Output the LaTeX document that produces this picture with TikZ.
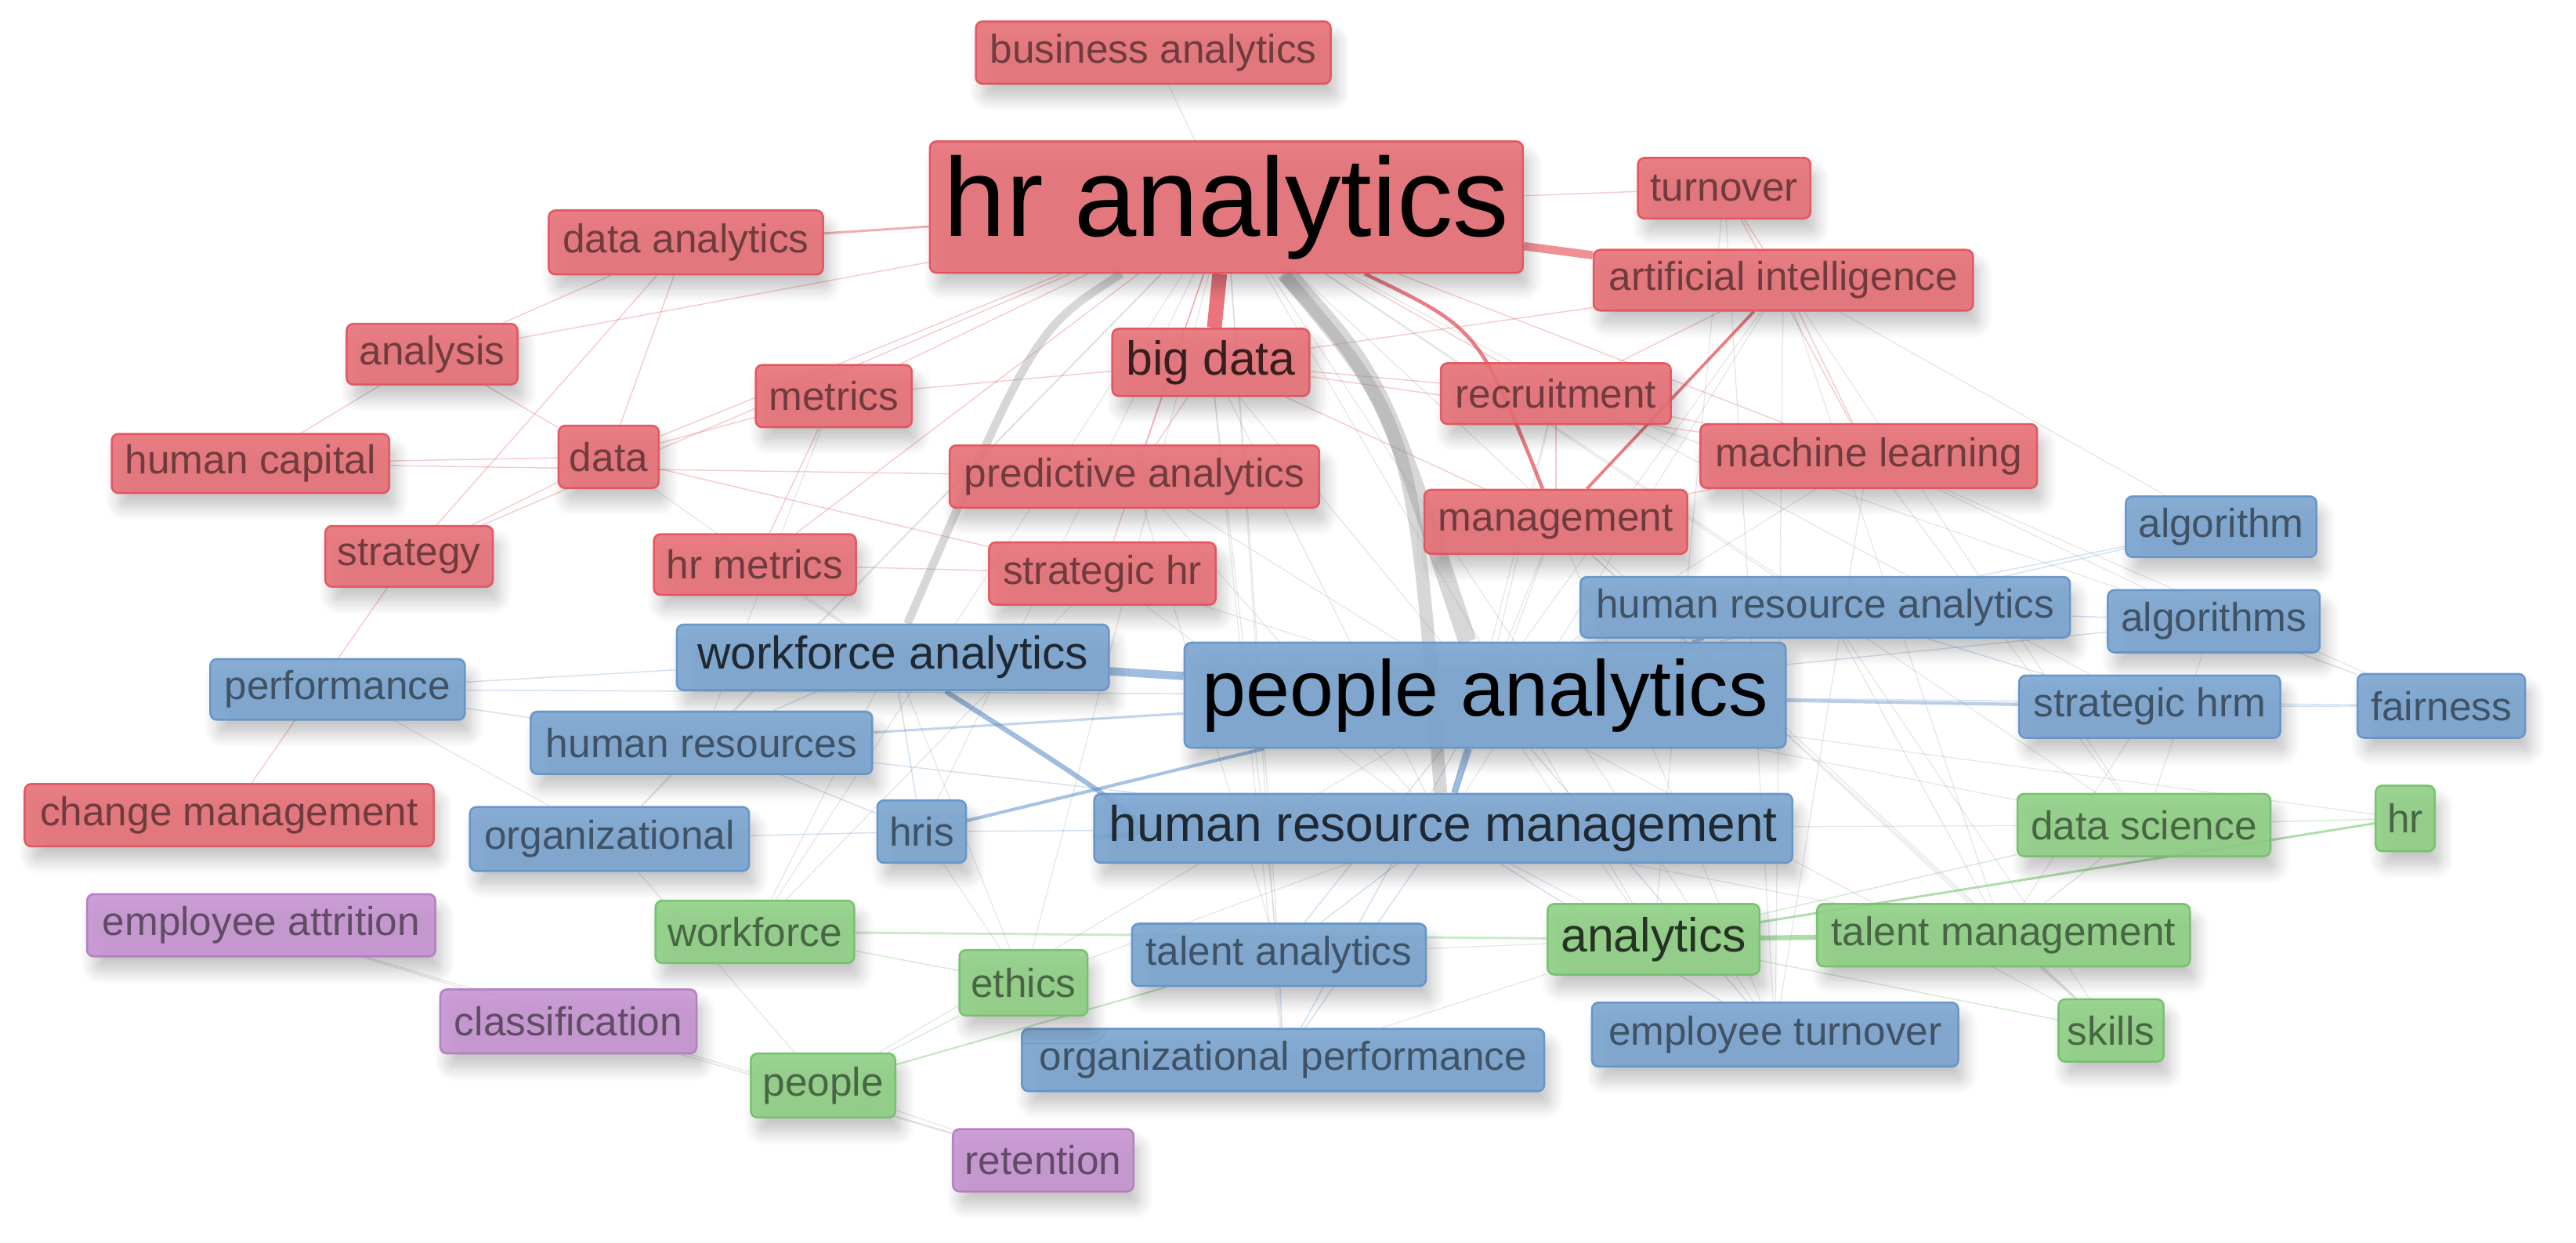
\documentclass[tikz,border=0pt]{standalone}
\usepackage{fontspec}
\setmainfont{Liberation Sans}
\usetikzlibrary{shadows.blur}
\pgfdeclarelayer{bg}
\pgfsetlayers{bg,main}
\definecolor{rfill}{RGB}{230,112,118}
\definecolor{rdraw}{RGB}{226,80,90}
\definecolor{bfill}{RGB}{122,164,207}
\definecolor{bdraw}{RGB}{96,146,200}
\definecolor{gfill}{RGB}{142,207,132}
\definecolor{gdraw}{RGB}{112,192,104}
\definecolor{pfill}{RGB}{197,148,208}
\definecolor{pdraw}{RGB}{176,122,192}
\definecolor{redge}{RGB}{228,70,80}
\definecolor{bedge}{RGB}{80,135,200}
\definecolor{gedge}{RGB}{110,195,100}
\definecolor{kedge}{RGB}{140,140,140}
\definecolor{pedge}{RGB}{180,130,195}
\newcommand\kwnode[7]{\node[#1, minimum width=#5pt, minimum height=#6pt] (#2) at (#3,#4) {#7};}
\tikzset{
  kw/.style={rounded corners=4pt, line width=1.2pt, inner xsep=2pt, inner ysep=0pt,
    font=\fontsize{24.5}{26}\selectfont, text=black, text opacity=0.5,
    fill opacity=0.9, draw opacity=0.9,
    blur shadow={shadow xshift=4pt, shadow yshift=-9pt, shadow opacity=25, shadow blur steps=8, shadow blur radius=8pt}},
  rn/.style={kw, fill=rfill, draw=rdraw},
  bn/.style={kw, fill=bfill, draw=bdraw},
  gn/.style={kw, fill=gfill, draw=gdraw},
  pn/.style={kw, fill=pfill, draw=pdraw},
  midtxt/.style={font=\fontsize{29}{31}\selectfont, text opacity=0.75},
  hugetxt/.style={text opacity=1},
  redln/.style={draw=redge, draw opacity=0.28, line width=0.7pt},
  blueln/.style={draw=bedge, draw opacity=0.25, line width=0.7pt},
  grayln/.style={draw=kedge, draw opacity=0.22, line width=0.6pt},
  greenln/.style={draw=gedge, draw opacity=0.3, line width=0.7pt},
  purpln/.style={draw=pedge, draw opacity=0.25, line width=0.7pt},
}
\begin{document}
\begin{tikzpicture}[x=1pt,y=-1pt]
\useasboundingbox (0,0) rectangle (1568,756);
% ---- red cluster
\kwnode{rn}{bizan}{702}{32}{216}{38}{business analytics}
\kwnode{rn,hugetxt,font=\fontsize{68}{70}\selectfont}{hra}{746.5}{126}{361}{80}{hr analytics}
\kwnode{rn}{turnover}{1049.5}{114.5}{105}{37}{turnover}
\kwnode{rn}{dataan}{417.5}{147.5}{167}{39}{data analytics}
\kwnode{rn}{ai}{1085.5}{170.5}{231}{37}{artificial intelligence}
\kwnode{rn}{analysis}{263}{215.5}{104}{37}{analysis}
\kwnode{rn,midtxt}{bigdata}{737}{220.5}{120}{41}{big data}
\kwnode{rn}{metrics}{507.5}{241}{95}{38}{metrics}
\kwnode{rn}{recruit}{947}{239.5}{140}{37}{recruitment}
\kwnode{rn}{humcap}{152.5}{282}{169}{36}{human capital}
\kwnode{rn}{data}{370.5}{278}{61}{38}{data}
\kwnode{rn}{ml}{1137.5}{277.5}{205}{39}{machine learning}
\kwnode{rn}{predan}{690.5}{290}{225}{38}{predictive analytics}
\kwnode{rn}{mgmt}{947}{317.5}{160}{39}{management}
\kwnode{rn}{strategy}{249}{338.5}{102}{37}{strategy}
\kwnode{rn}{hrmet}{459.5}{343.5}{123}{37}{hr metrics}
\kwnode{rn}{strathr}{671}{349}{138}{38}{strategic hr}
\kwnode{rn}{changem}{139.5}{496}{249}{38}{change management}
% ---- blue cluster
\kwnode{bn}{algorithm}{1352}{320.5}{116}{37}{algorithm}
\kwnode{bn}{hranal}{1111}{369.5}{298}{37}{human resource analytics}
\kwnode{bn}{algorithms}{1347.5}{378}{129}{38}{algorithms}
\kwnode{bn,midtxt,font=\fontsize{28}{30}\selectfont}{wfa}{543.5}{400}{263}{40}{workforce analytics}
\kwnode{bn,hugetxt,font=\fontsize{48}{50}\selectfont}{pa}{904}{423}{366}{64}{people analytics}
\kwnode{bn}{perf}{205.5}{419.5}{155}{37}{performance}
\kwnode{bn}{strathrm}{1308.5}{430}{159}{38}{strategic hrm}
\kwnode{bn}{fairness}{1486}{429.5}{102}{39}{fairness}
\kwnode{bn}{humres}{427}{452}{208}{38}{human resources}
\kwnode{bn}{hris}{561}{506}{54}{38}{hris}
\kwnode{bn}{org}{371}{510.5}{170}{39}{organizational}
\kwnode{bn,midtxt,font=\fontsize{30.5}{32}\selectfont}{hrm}{878.5}{504}{425}{42}{human resource management}
\kwnode{bn}{talentan}{778.5}{581}{179}{38}{talent analytics}
\kwnode{bn}{orgperf}{781}{645}{318}{38}{organizational performance}
\kwnode{bn}{empturn}{1080.5}{629.5}{223}{39}{employee turnover}
% ---- green cluster
\kwnode{gn}{datasci}{1305}{502}{154}{38}{data science}
\kwnode{gn}{hr}{1464}{498}{36}{40}{hr}
\kwnode{gn}{workforce}{459.5}{567}{121}{38}{workforce}
\kwnode{gn,midtxt}{analytics}{1006.5}{571.5}{129}{43}{analytics}
\kwnode{gn}{talentm}{1219.5}{569}{227}{38}{talent management}
\kwnode{gn}{ethics}{623}{598}{78}{40}{ethics}
\kwnode{gn}{skills}{1285}{627}{64}{38}{skills}
\kwnode{gn}{people}{501}{660.5}{88}{39}{people}
% ---- purple cluster
\kwnode{pn}{empattr}{159}{563}{212}{38}{employee attrition}
\kwnode{pn}{classif}{346}{621.5}{156}{39}{classification}
\kwnode{pn}{retention}{635}{706}{110}{38}{retention}

\begin{pgfonlayer}{bg}
% faint gray inter-cluster links
\foreach \a/\b in {bizan/hra, hra/humres, hra/hris, hra/org, hra/talentan, hra/orgperf,
  hra/analytics, hra/datasci, hra/empturn, hra/ethics, hra/hranal, hra/strathrm, hra/skills,
  bigdata/pa, bigdata/hrm, predan/pa, strathr/pa, mgmt/pa, ml/pa, ai/pa, ai/hrm,
  ml/datasci, ai/talentm, recruit/pa, recruit/hrm, mgmt/hrm, ml/empturn, turnover/empturn,
  hrmet/wfa, data/wfa, metrics/humres, predan/hrm, strathr/hrm, bigdata/talentan,
  ai/algorithm, ml/algorithms, ml/fairness, mgmt/talentm, mgmt/skills, ai/datasci,
  recruit/algorithms, turnover/analytics, hra/workforce, bigdata/orgperf, predan/talentan,
  ai/empturn, pa/analytics, hrm/analytics, hrm/talentm, pa/datasci, pa/skills, hrm/datasci,
  hranal/talentm, strathrm/talentm, algorithms/datasci, pa/people, hrm/ethics, wfa/workforce,
  wfa/ethics, strathr/workforce, hris/ethics, org/people, empattr/retention, people/retention,
  perf/org, humres/org, pa/hr, hranal/skills, talentan/analytics, orgperf/analytics, mgmt/empturn}
  \draw[grayln] (\a) -- (\b);
% red links
\foreach \a/\b in {hra/analysis, hra/metrics, hra/data, hra/strategy, hra/hrmet, hra/predan,
  hra/strathr, hra/ml, hra/recruit, hra/turnover, analysis/data, analysis/humcap, humcap/data,
  data/strathr, data/metrics, data/strategy, dataan/analysis, dataan/data, metrics/hrmet,
  metrics/bigdata, bigdata/recruit, bigdata/ml, bigdata/ai, turnover/ml, ai/ml, recruit/ml,
  ai/recruit, turnover/ai, mgmt/ml, strategy/changem, predan/bigdata, dataan/strategy,
  humcap/predan, strathr/hrmet, bigdata/mgmt, recruit/mgmt}
  \draw[redln] (\a) -- (\b);
\draw[redln, draw opacity=0.45, line width=1.4pt] (hra) -- (dataan);
\draw[redln, draw opacity=0.75, line width=9pt] (hra) -- (bigdata);
\draw[redln, draw opacity=0.6, line width=5pt] (hra) -- (ai);
\draw[redln, draw opacity=0.7, line width=2.2pt] (hra) .. controls (900,200) .. (mgmt);
\draw[redln, draw opacity=0.7, line width=1.8pt] (ai) -- (mgmt);
% heavy gray links
\draw[grayln, draw opacity=0.35, line width=11pt] (hra) .. controls (840,230) .. (pa);
\draw[grayln, draw opacity=0.35, line width=8pt] (hra) .. controls (860,260) .. (hrm);
\draw[grayln, draw opacity=0.35, line width=5pt] (hra) .. controls (630,200) .. (wfa);
% blue links
\foreach \a/\b in {pa/fairness, pa/algorithm, pa/algorithms, pa/perf, wfa/perf, hrm/hris,
  hrm/humres, hrm/talentan, hrm/orgperf, pa/talentan, pa/orgperf, pa/empturn, strathrm/fairness,
  algorithms/fairness, algorithm/hranal, wfa/humres, hris/humres, org/hris, talentan/orgperf,
  hrm/empturn, wfa/hris, hranal/algorithms, hranal/strathrm, perf/humres}
  \draw[blueln] (\a) -- (\b);
\draw[blueln, draw opacity=0.55, line width=5pt] (wfa) -- (pa);
\draw[blueln, draw opacity=0.55, line width=3pt] (wfa) .. controls (712,508) .. (hrm);
\draw[blueln, draw opacity=0.55, line width=4pt] (pa) -- (hrm);
\draw[blueln, draw opacity=0.4, line width=2pt] (pa) -- (strathrm);
\draw[blueln, draw opacity=0.45, line width=2pt] (pa) -- (hranal);
\draw[blueln, draw opacity=0.5, line width=2pt] (pa) -- (hris);
\draw[blueln, draw opacity=0.35, line width=1.5pt] (pa) -- (humres);
% green links
\foreach \a/\b in {datasci/talentm, skills/talentm, datasci/analytics, people/ethics,
  workforce/ethics, datasci/hr, skills/analytics}
  \draw[greenln] (\a) -- (\b);
\draw[greenln, draw opacity=0.55, line width=3pt] (analytics) -- (talentm);
\draw[greenln, draw opacity=0.55, line width=1.4pt] (analytics) -- (hr);
\draw[greenln, draw opacity=0.35, line width=1.4pt] (workforce) -- (analytics);
\draw[greenln, draw opacity=0.4, line width=1pt] (people) -- (talentan);
% purple links
\draw[purpln] (empattr) -- (classif);
\draw[purpln] (classif) -- (retention);
\end{pgfonlayer}
\end{tikzpicture}
\end{document}
